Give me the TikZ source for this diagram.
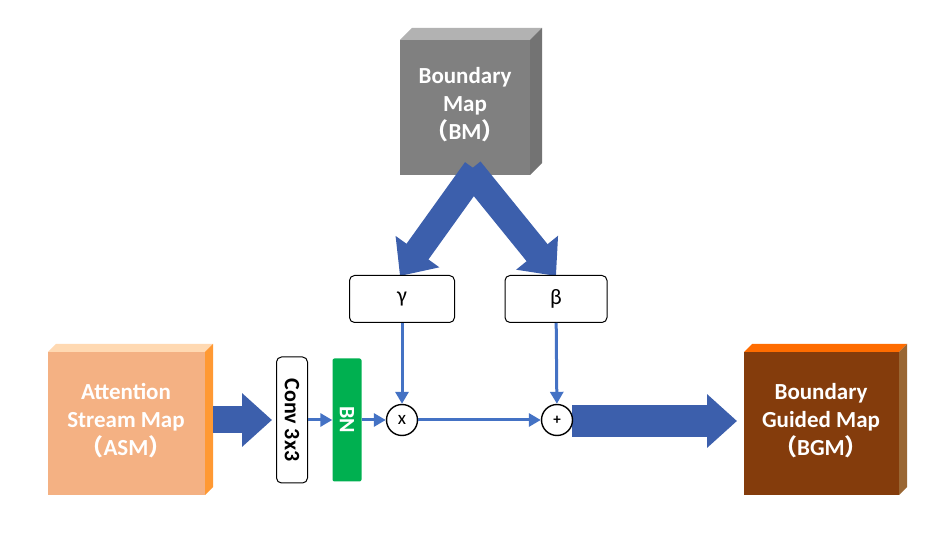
\documentclass[tikz,border=0pt]{standalone}
\usepackage{fontspec}
\setmainfont{Carlito}
\newfontfamily\cjk{Noto Sans CJK SC}
\usetikzlibrary{arrows.meta}
\definecolor{thin}{HTML}{4472C4}
\definecolor{fat}{HTML}{3C5FAC}
\newcommand{\lp}{{\cjk （}}
\newcommand{\rp}{{\cjk ）}}
\begin{document}
\begin{tikzpicture}[x=1pt,y=-1pt,
  txt/.style={font=\bfseries\fontsize{23}{28}\selectfont,align=center,text=white},
  thina/.style={draw=thin,line width=3pt,-{Triangle[width=13pt,length=12pt]}},
  fata/.style={draw=fat,fill=fat,line width=27pt,-{Triangle[width=52pt,length=30pt]}},
  rbox/.style={draw=black,line width=1pt,rounded corners=5pt,fill=white},
  circ/.style={draw=black,line width=1.4pt,fill=white,circle,minimum size=31pt,inner sep=0pt}]
\useasboundingbox (0,0) rectangle (938,534);
% BM cube
\fill[gray!60] (400,40) -- (412,28) -- (542,28) -- (530,40) -- cycle;
\fill[black!55] (530,40) -- (542,28) -- (542,163) -- (530,175) -- cycle;
\fill[black!50!white] (400,40) rectangle (530,175);
\node[txt] (bm) at (465,105) {Boundary\\Map\\\lp BM\rp};
% ASM cube
\fill[orange!30!white] (48,352) -- (56,344) -- (213,344) -- (205,352) -- cycle;
\fill[orange!80!white] (205,352) -- (213,344) -- (213,487) -- (205,495) -- cycle;
\fill[fill={rgb,255:red,244;green,177;blue,131}] (48,352) rectangle (205,495);
\node[txt] (asm) at (126,421) {Attention\\Stream Map\\\lp ASM\rp};
% BGM cube
\fill[orange!85!red] (744,352) -- (752,344) -- (907,344) -- (899,352) -- cycle;
\fill[brown!80!black] (899,352) -- (907,344) -- (907,487) -- (899,495) -- cycle;
\fill[fill={rgb,255:red,132;green,60;blue,12}] (744,352) rectangle (899,495);
\node[txt] (bgm) at (821,421) {Boundary\\Guided Map\\\lp BGM\rp};
% fat arrows
\coordinate (a1) at (213,420); \coordinate (a2) at (272,420);
\draw[fata] (a1) -- (a2);
\coordinate (o1) at (572,421); \coordinate (o2) at (737,421);
\draw[fata,line width=32pt] (o1) -- (o2);
\coordinate (l1) at (476,170); \coordinate (l2) at (400,276);
\coordinate (r1) at (470,170); \coordinate (r2) at (556,276);
\draw[fata] (l1) -- (l2);
\draw[fata] (r1) -- (r2);
% gamma beta
\node[rbox,minimum width=105pt,minimum height=47pt] (g) at (402,299) {\fontsize{22}{24}\selectfont γ};
\node[rbox,minimum width=102pt,minimum height=47pt] (b) at (556,299) {\fontsize{22}{24}\selectfont β};
% conv, BN
\node[rbox,minimum width=126pt,minimum height=31pt,rotate=-90] (conv) at (292,420) {\bfseries\fontsize{22}{24}\selectfont Conv 3x3};
\node[draw=none,fill={rgb,255:red,0;green,176;blue,80},rounded corners=2pt,minimum width=123pt,minimum height=29pt,rotate=-90,text=white] (bn) at (347,420) {\bfseries\fontsize{22}{24}\selectfont BN};
\node[circ] (mul) at (402,420) {\fontsize{19}{20}\selectfont x};
\node[circ] (add) at (557,420) {\bfseries\fontsize{15}{16}\selectfont +};
% thin arrows
\draw[thina] (conv) -- (bn);
\draw[thina] (bn) -- (mul);
\draw[thina] (mul) -- (add);
\draw[thina] (g) -- (mul);
\draw[thina] (b) -- (add);
\end{tikzpicture}
\end{document}
